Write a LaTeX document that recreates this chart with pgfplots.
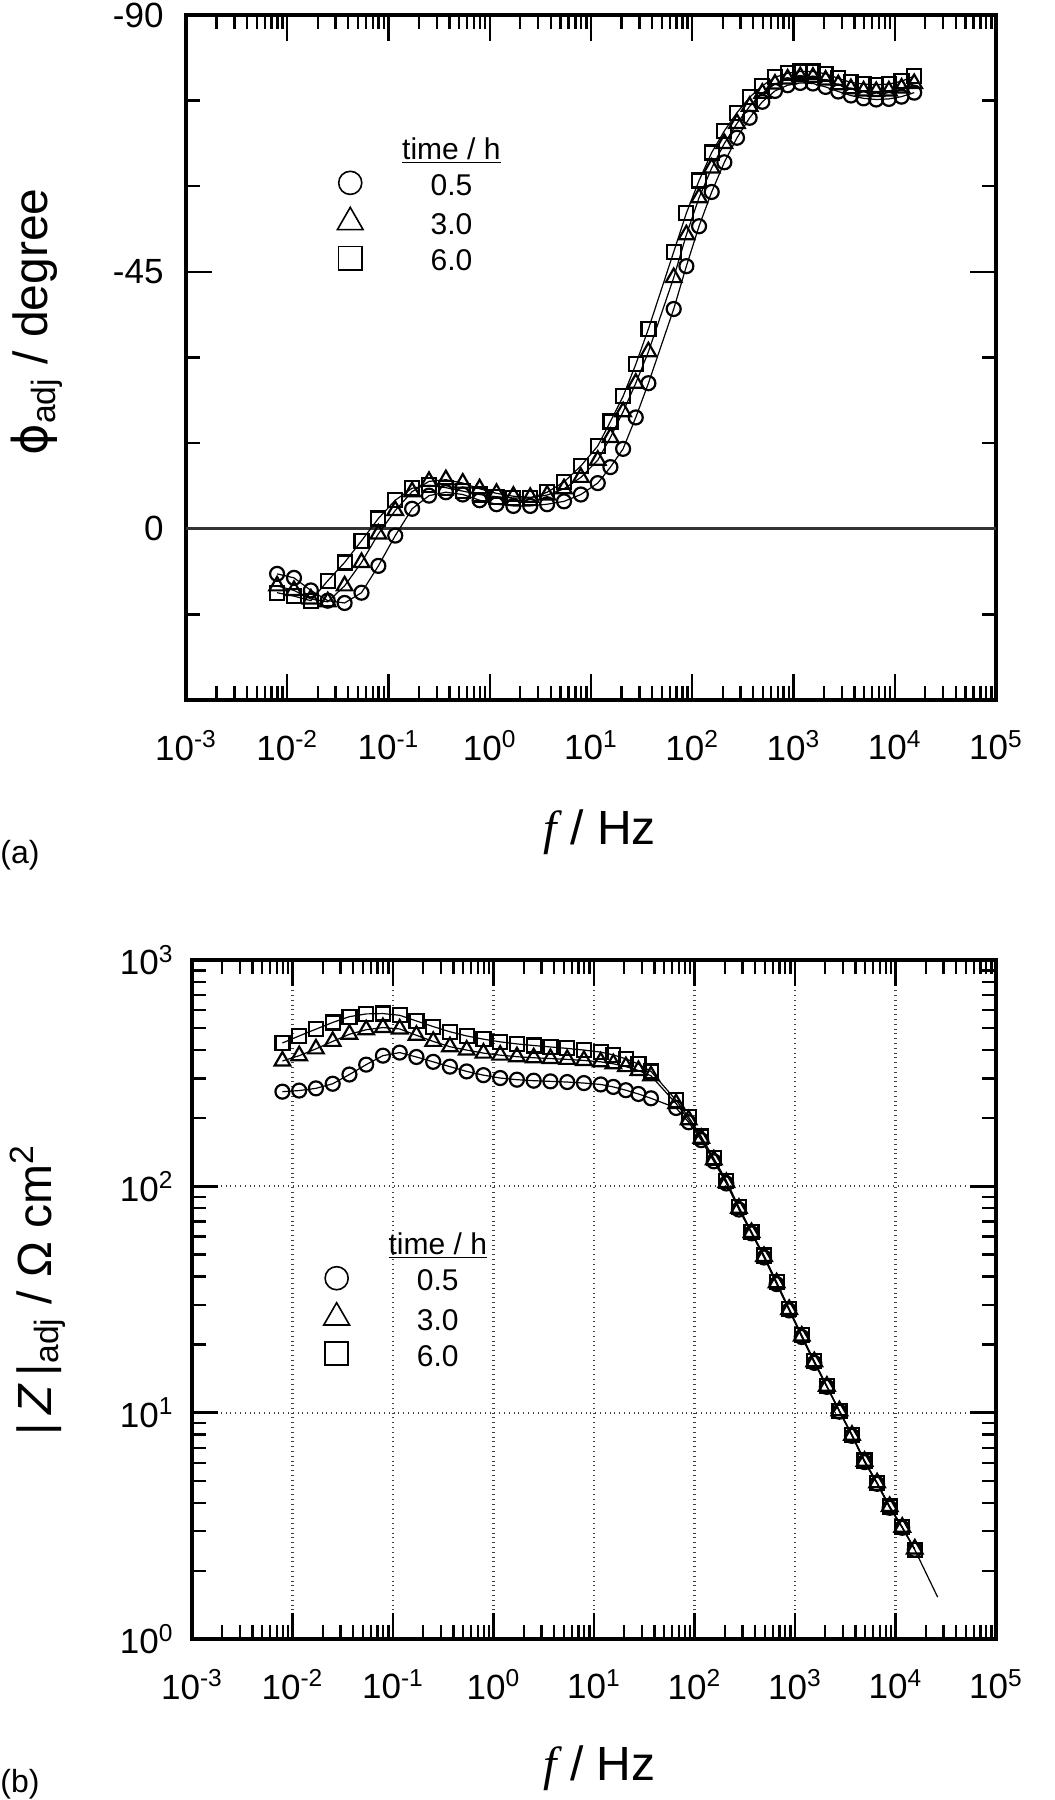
\documentclass[border=0pt]{standalone}
\usepackage{fontspec}
\setmainfont{Liberation Sans}
\newfontfamily\lserif{Liberation Serif}
\newfontfamily\dejavu{DejaVu Sans}
\usepackage{pgfplots}
\usepackage{pgfplotstable}
\pgfplotsset{compat=1.18}

% f / Hz, phase (deg) and |Z| (Ohm cm^2) after 0.5 h (C), 3.0 h (T) and 6.0 h (S)
\pgfplotstableread{
f       pC     pT     pS     zC     zT     zS
0.00794  7.9   10.0   11.2   262    358    430
0.01166  8.6   10.8   11.8   265    378    462
0.01711 10.8   12.3   12.6   271    405    495
0.02512 12.6   12.8    9.1   284    437    530
0.03687 13.0   10.0    5.9   312    470    562
0.05412 11.2    5.9    2.1   345    492    578
0.07943  6.5    0.9   -1.8   378    503    580
0.1166   1.2   -3.2   -5.0   390    496    570
0.1711  -3.5   -6.5   -7.1   373    465    538
0.2512  -5.8   -8.3   -7.6   355    437    508
0.3687  -6.4   -8.6   -7.2   338    414    482
0.5412  -6.0   -8.0   -6.6   322    400    462
0.7943  -5.0   -7.0   -6.0   310    388    447
1.166   -4.3   -6.2   -5.6   301    380    435
1.711   -4.0   -5.7   -5.4   296    374    426
2.512   -4.0   -5.5   -5.4   293    370    419
3.687   -4.3   -5.9   -6.4   291    367    413
5.412   -4.8   -7.0   -8.2   289    364    407
7.943   -6.0   -9.0  -11.0   286    360    400
11.66   -8.0  -12.0  -14.5   282    355    392
15.56  -10.8  -16.0  -18.8   275    348    381
20.75  -14.0  -20.5  -23.2   266    338    366
27.67  -19.5  -25.5  -28.8   256    325    347
36.90  -25.5  -31.0  -35.0   245    308    322
65.61  -38.5  -44.0  -48.5   222    232    240
87.50  -46.0  -51.5  -55.3   192    197    202
116.7  -53.0  -58.0  -61.0   160    163    166
155.6  -59.0  -63.2  -65.9   129    131    133
207.5  -64.2  -67.5  -69.7   103    104    106
276.7  -68.5  -71.0  -72.9    79     80     81
369.0  -72.0  -74.0  -75.6    62     62.5   63
492.0  -74.8  -76.3  -77.6    48.5   49     49.5
656.1  -76.7  -77.9  -79.1    37     37.5   37.8
875.0  -77.7  -78.8  -79.8    28.3   28.6   28.8
1167   -78.1  -79.2  -80.1    21.6   21.8   22.0
1556   -78.0  -79.1  -80.1    16.6   16.8   16.9
2075   -77.4  -78.6  -79.7    13.0   13.1   13.1
2767   -76.6  -77.8  -78.9    10.1   10.2   10.2
3690   -75.9  -77.1  -78.2     7.9    7.95   8.0
4920   -75.4  -76.7  -77.9     6.05   6.1    6.15
6561   -75.2  -76.6  -77.8     4.85   4.9    4.9
8750   -75.3  -76.7  -77.9     3.8    3.85   3.85
11670  -75.7  -77.2  -78.4     3.1    3.12   3.12
15560  -76.4  -78.0  -79.3     2.48   2.5    2.48
}\eisdata

% marker styles of the three immersion times
\tikzset{
  sercirc/.style={black, line width=0.6pt, mark=o, mark size=3.5pt,
      mark options={solid, line width=1.1pt}},
  sertri/.style={black, line width=0.6pt, mark=triangle, mark size=4.5pt,
      mark options={solid, line width=1.1pt}},
  sersq/.style={black, line width=0.6pt, mark=square, mark size=3.5pt,
      mark options={solid, line width=1.1pt}},
}

% common frame of both panels
\pgfplotsset{every axis/.append style={
    scale only axis,
    xmode=log, xmin=1e-3, xmax=1e5,
    xtick={1e-3,1e-2,1e-1,1,1e1,1e2,1e3,1e4,1e5},
    xticklabels={10\textsuperscript{-3},10\textsuperscript{-2},10\textsuperscript{-1},
      10\textsuperscript{0},10\textsuperscript{1},10\textsuperscript{2},
      10\textsuperscript{3},10\textsuperscript{4},10\textsuperscript{5}},
    axis line style={line width=2.4pt},
    tick style={line width=1.2pt, black},
    tick align=inside,
    major tick length=13pt, minor tick length=7pt,
    tick label style={font=\fontsize{17.5}{20}\selectfont},
    xticklabel style={yshift=-11.7pt},
    label style={font=\fontsize{24}{28}\selectfont},
    legend cell align=center,
    legend image code/.code={%
      \draw[##1, mark options={solid, line width=0.8pt, scale=1.65}] plot coordinates {(0pt,2.5pt)};
      \path[draw=none, fill=none] (-7pt,2.5pt) -- (25pt,2.5pt);},
    legend style={draw=none, fill=none, inner sep=0pt, row sep=1.5pt,
      font=\fontsize{15}{18}\selectfont,
      nodes={inner sep=1pt, text height=11pt, text depth=3.5pt}},
}}

\begin{document}
\begin{tikzpicture}
\useasboundingbox (0pt,0pt) rectangle (527.5pt,-900pt);

% (a) phase angle
\begin{axis}[
  at={(93pt,-350pt)}, anchor=south west, width=405pt, height=342.5pt,
  y dir=reverse, ymin=-90, ymax=30,
  ytick={-90,-45,0}, yticklabels={-90,-45,0},
  minor ytick={-75,-60,-30,-15,15,30},
  yticklabel style={xshift=-7.7pt},
  xlabel={{\lserif\itshape f} / Hz},
  ylabel={{\dejavu ϕ}\textsubscript{adj} / degree},
  xlabel style={at={(axis description cs:0.511,-0.193)}, anchor=center},
  ylabel style={at={(axis description cs:-0.184,0.552)}, anchor=center},
  legend style={at={(axis description cs:0.185,0.825)}, anchor=north west},
]
\addlegendimage{empty legend}
\addplot[forget plot, black!80, line width=1.6pt] coordinates {(1e-3,0) (1e5,0)};
\addplot[sercirc] table[x=f, y=pC] {\eisdata};
\addplot[sertri]  table[x=f, y=pT] {\eisdata};
\addplot[sersq]   table[x=f, y=pS] {\eisdata};
\legend{\underline{time / h}, 0.5, 3.0, 6.0}
\end{axis}

% (b) impedance modulus
\begin{axis}[
  at={(96pt,-819.5pt)}, anchor=south west, width=402pt, height=339.5pt,
  ymode=log, ymin=1, ymax=1000,
  ytick={1,10,100,1000},
  yticklabels={10\textsuperscript{0},10\textsuperscript{1},10\textsuperscript{2},10\textsuperscript{3}},
  yticklabel style={xshift=-5.7pt},
  grid=major, major grid style={dotted, line width=1.1pt, black!75},
  xlabel={{\lserif\itshape f} / Hz},
  ylabel={|\,\textit{Z}\,|\textsubscript{adj} / Ω cm\textsuperscript{2}},
  xlabel style={at={(axis description cs:0.507,-0.190)}, anchor=center},
  ylabel style={at={(axis description cs:-0.192,0.514)}, anchor=center},
  legend style={at={(axis description cs:0.162,0.602)}, anchor=north west},
]
\addlegendimage{empty legend}
\addplot[sercirc] table[x=f, y=zC] {\eisdata};
\addplot[sertri]  table[x=f, y=zT] {\eisdata};
\addplot[sersq]   table[x=f, y=zS] {\eisdata};
\addplot[forget plot, black, line width=0.6pt] coordinates {(15560,2.48) (26300,1.53)};
\legend{\underline{time / h}, 0.5, 3.0, 6.0}
\end{axis}

\node[anchor=west, inner sep=0pt, font=\fontsize{16}{19}\selectfont] at (0pt,-427.5pt) {(a)};
\node[anchor=west, inner sep=0pt, font=\fontsize{16}{19}\selectfont] at (0pt,-892pt) {(b)};
\end{tikzpicture}
\end{document}
